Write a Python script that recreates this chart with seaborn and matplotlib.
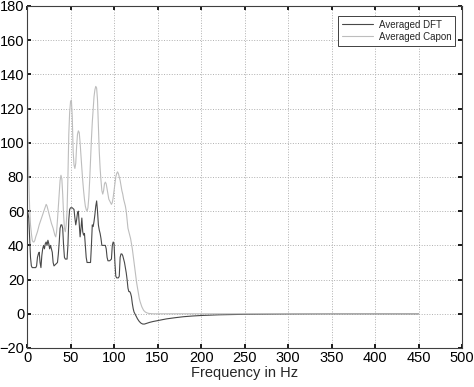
import numpy as np
import pandas as pd
import matplotlib
matplotlib.use("Agg")
import matplotlib.pyplot as plt
import seaborn as sns

# ---- data ----
dft_freq = [0, 1, 2, 3, 4, 5, 6, 8, 10, 11, 12, 13, 14, 15, 16, 17, 18, 19, 20, 21, 22, 23, 24, 25, 26, 27, 28, 29, 30, 31, 33, 35, 36, 37, 38, 39, 40, 41, 42, 43, 44, 46, 47, 48, 49, 50, 52, 54, 55, 56, 57, 58, 59, 60, 61, 62, 63, 64, 65, 66, 67, 68, 69, 71, 73, 74, 75, 76, 77, 78, 79, 80, 81, 82, 83, 84, 85, 86, 88, 90, 91, 92, 93, 95, 97, 98, 99, 100, 101, 102, 103, 105, 106, 107, 108, 109, 110, 111, 112, 113, 114, 115, 116, 117, 118, 119, 120, 121, 122, 123, 124, 125, 127, 129, 131, 133, 135, 138, 141, 145, 150, 155, 160, 170, 180, 190, 200, 220, 250, 300, 350, 400, 450]
dft_vals = [60, 59, 56, 45, 33, 28, 27, 27, 27, 28, 33, 35, 36, 30, 27, 34, 38, 40, 38, 41, 42, 40, 43, 41, 38, 40, 38, 36, 30, 28, 29, 30, 35, 42, 50, 52, 52, 50, 40, 33, 32, 32, 40, 55, 61, 62, 62, 61, 56, 52, 55, 59, 60, 52, 45, 50, 56, 48, 46, 47, 40, 33, 30, 30, 30, 40, 52, 51, 54, 58, 63, 66, 60, 52, 49, 47, 44, 40, 40, 40, 38, 33, 31, 31, 32, 40, 42, 41, 30, 22, 21, 21, 22, 33, 35, 35, 34, 32, 30, 27, 24, 20, 15, 13, 13, 12, 10, 6, 3, 1, 0, -1, -3, -4.5, -5.5, -6, -6, -5.5, -5, -4.5, -4, -3.5, -3, -2.3, -1.7, -1.3, -1, -0.6, -0.3, -0.1, 0, 0, 0]

capon_freq = [0, 0.5, 1, 2, 3, 4, 5, 6, 7, 8, 9, 10, 12, 14, 16, 18, 20, 22, 23, 24, 26, 28, 30, 31, 32, 33, 34, 35, 36, 37, 38, 39, 40, 41, 42, 43, 44, 45, 46, 47, 48, 49, 50, 51, 52, 53, 54, 55, 56, 57, 58, 59, 60, 61, 62, 63, 64, 65, 66, 67, 68, 69, 70, 71, 72, 73, 74, 75, 76, 77, 78, 79, 80, 81, 82, 83, 84, 85, 86, 87, 88, 89, 90, 91, 92, 93, 94, 95, 96, 97, 98, 99, 100, 101, 102, 103, 104, 105, 106, 107, 108, 109, 110, 111, 112, 113, 114, 115, 116, 117, 118, 119, 120, 121, 122, 123, 124, 125, 126, 127, 128, 129, 130, 132, 134, 136, 138, 140, 145, 150, 200, 250, 300, 350, 400, 450]
capon_vals = [150, 135, 105, 80, 62, 52, 47, 43, 42, 42, 43, 45, 48, 52, 55, 58, 61, 64, 63, 61, 57, 53, 50, 48, 46, 45, 48, 55, 63, 72, 78, 81, 79, 70, 58, 50, 48, 52, 60, 80, 105, 118, 124, 125, 115, 95, 87, 85, 88, 98, 105, 107, 106, 100, 92, 85, 78, 72, 67, 63, 61, 60, 62, 68, 78, 90, 102, 112, 120, 127, 131, 133, 132, 125, 110, 95, 85, 78, 72, 70, 72, 76, 77, 76, 73, 70, 67, 66, 65, 64, 65, 68, 72, 76, 80, 82, 83, 82, 80, 78, 75, 72, 70, 67, 65, 63, 60, 55, 50, 48, 46, 44, 41, 38, 34, 30, 26, 22, 18, 15, 12, 9, 7, 4, 2, 1, 0.5, 0.2, 0, 0, 0, 0, 0, 0, 0, 0]

series_names = ["Averaged DFT", "Averaged Capon"]
x_ticks = [0, 50, 100, 150, 200, 250, 300, 350, 400, 450, 500]
y_ticks = [-20, 0, 20, 40, 60, 80, 100, 120, 140, 160, 180]

df = pd.concat([
    pd.DataFrame({"freq": dft_freq, "val": dft_vals, "series": series_names[0]}),
    pd.DataFrame({"freq": capon_freq, "val": capon_vals, "series": series_names[1]}),
], ignore_index=True)

sns.set_theme(style="white")
plt.rcParams["font.family"] = ["Liberation Sans", "DejaVu Sans"]

fig = plt.figure(figsize=(4.74, 3.87), dpi=100)
ax = fig.add_axes([0.057, 0.1008, 0.918, 0.8837])

sns.lineplot(data=df, x="freq", y="val", hue="series", hue_order=series_names,
             palette={"Averaged DFT": "#484848", "Averaged Capon": "#bdbdbd"},
             linewidth=0.8, sort=False, estimator=None, ax=ax)

ax.set_xlim(0, 500)
ax.set_ylim(-20, 180)
ax.set_xticks(x_ticks)
ax.set_yticks(y_ticks)
ax.tick_params(axis="both", direction="in", length=3, labelsize=10.5, colors="black",
               top=True, right=True, bottom=True, left=True, pad=2)
ax.grid(True, linestyle=":", color="#b0b0b0", linewidth=0.7)
for s in ax.spines.values():
    s.set_color("#404040")
    s.set_linewidth(0.8)
ax.set_xlabel("Frequency in Hz", fontsize=10.5, labelpad=1)
ax.set_ylabel("")

leg = ax.legend(loc="upper right", fontsize=7, frameon=True, fancybox=False,
                framealpha=1, edgecolor="#404040", handlelength=3.2,
                borderpad=0.4, labelspacing=0.2, handletextpad=0.6,
                bbox_to_anchor=(0.995, 0.985))
leg.get_frame().set_linewidth(0.7)

fig.savefig("out.png", dpi=100)
